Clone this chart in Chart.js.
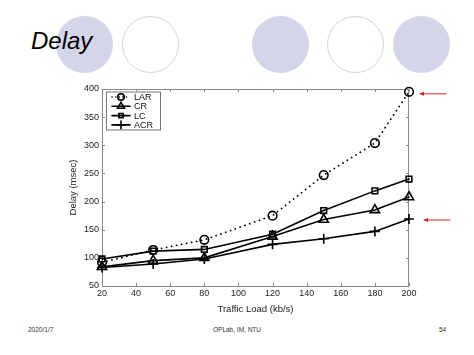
<!DOCTYPE html>
<html><head><meta charset="utf-8">
<script src="https://cdn.jsdelivr.net/npm/chart.js@4.4.1/dist/chart.umd.min.js"></script>
<style>
html,body{margin:0;padding:0;background:#fff;width:474px;height:355px;overflow:hidden;font-family:"Liberation Sans",Arial,sans-serif;}
.c{position:absolute;border-radius:50%;box-sizing:border-box;}
.f{background:#d5d5e9;}
.o{border:1px solid #d3d3e6;background:#fff;}
#title{position:absolute;left:31px;top:27px;font-size:24px;font-style:italic;color:#000;}
.foot{position:absolute;top:326px;font-size:6.5px;color:#333;}
#wrap{position:absolute;left:0;top:0;width:474px;height:355px;}
</style></head>
<body>
<div class="c f" style="left:56px;top:16px;width:57px;height:57px"></div>
<div class="c o" style="left:122px;top:16px;width:57px;height:57px"></div>
<div class="c f" style="left:252px;top:16px;width:57px;height:57px"></div>
<div class="c o" style="left:327px;top:16px;width:57px;height:57px"></div>
<div class="c f" style="left:393px;top:16px;width:57px;height:57px"></div>
<div id="title">Delay</div>
<div class="foot" style="left:28px">2020/1/7</div>
<div class="foot" style="left:213px">OPLab, IM, NTU</div>
<div class="foot" style="left:439px">54</div>
<div id="wrap"><canvas id="cv" width="474" height="355"></canvas></div>
<script>
const loads = [20, 50, 80, 120, 150, 180, 200];
const lar = [92, 114, 132, 175, 247, 304, 395];
const cr  = [84, 95, 100, 138, 168, 185, 208];
const lc  = [98, 112, 115, 142, 184, 219, 240];
const acr = [83, 89, 98, 124, 134, 147, 169];
const seriesNames = ['LAR', 'CR', 'LC', 'ACR'];
const xTicks = [20, 40, 60, 80, 100, 120, 140, 160, 180, 200];
const yTicks = [50, 100, 150, 200, 250, 300, 350, 400];

const pts = arr => loads.map((x, i) => ({x: x, y: arr[i]}));
const styles = [
  {style:'circle', r:4.3, lr:3.2, dash:[0.1,5]},
  {style:'triangle', r:5.3, lr:4, dash:[]},
  {style:'rect', r:4, lr:3, dash:[]},
  {style:'cross', r:5, lr:3.8, dash:[]}
];
const vals = [lar, cr, lc, acr];
const datasets = seriesNames.map((n, i) => ({
  label: n, data: pts(vals[i]), clip: false,
  borderColor: '#000', borderWidth: i === 0 ? 1.8 : 1.6, borderDash: styles[i].dash,
  borderCapStyle: 'round',
  pointStyle: styles[i].style, pointRadius: styles[i].r, pointBorderWidth: 1.6,
  pointBackgroundColor: 'rgba(0,0,0,0)', pointBorderColor: '#000', tension: 0, fill: false
}));

const deco = {
  id: 'deco',
  beforeDatasetsDraw(chart) {
    const ctx = chart.ctx, a = chart.chartArea;
    const xs = chart.scales.x, ys = chart.scales.y;
    ctx.save();
    ctx.strokeStyle = '#8a8a8a'; ctx.lineWidth = 1;
    ctx.strokeRect(a.left + 0.5, a.top + 0.5, a.right - a.left - 1, a.bottom - a.top);
    ctx.beginPath();
    xTicks.forEach(v => {
      const p = Math.round(xs.getPixelForValue(v)) + 0.5;
      ctx.moveTo(p, a.bottom); ctx.lineTo(p, a.bottom - 3);
      ctx.moveTo(p, a.top); ctx.lineTo(p, a.top + 3);
    });
    yTicks.forEach(v => {
      const p = Math.round(ys.getPixelForValue(v)) + 0.5;
      ctx.moveTo(a.left, p); ctx.lineTo(a.left + 3, p);
      ctx.moveTo(a.right, p); ctx.lineTo(a.right - 3, p);
    });
    ctx.stroke();
    ctx.restore();
  },
  afterDraw(chart) {
    const ctx = chart.ctx, a = chart.chartArea;
    const ys = chart.scales.y;
    ctx.save();
    // legend
    const lx = a.left + 4, ly = a.top + 2.5, lw = 54, lh = 38;
    ctx.fillStyle = '#fff'; ctx.fillRect(lx, ly, lw, lh);
    ctx.strokeStyle = '#777'; ctx.lineWidth = 1; ctx.strokeRect(lx + 0.5, ly + 0.5, lw, lh);
    ctx.font = '9px "Liberation Sans", Arial, sans-serif';
    ctx.textBaseline = 'middle';
    seriesNames.forEach((n, i) => {
      const y = ly + 5.5 + i * 9.3;
      ctx.strokeStyle = '#000'; ctx.lineWidth = 1.6; ctx.lineCap = 'round';
      ctx.setLineDash(styles[i].dash.length ? [0.1, 3.5] : []);
      ctx.beginPath(); ctx.moveTo(lx + 6, y); ctx.lineTo(lx + 24, y); ctx.stroke();
      ctx.setLineDash([]);
      ctx.fillStyle = 'rgba(0,0,0,0)';
      Chart.helpers.drawPoint(ctx, {pointStyle: styles[i].style, radius: styles[i].lr, borderWidth: 1.6, rotation: 0}, lx + 15, y);
      ctx.fillStyle = '#111';
      ctx.fillText(n, lx + 28, y + 0.5);
    });
    // red arrows
    ctx.strokeStyle = '#d02020'; ctx.fillStyle = '#d02020'; ctx.lineWidth = 1;
    [[a.right + 10, ys.getPixelForValue(395) + 2, 27], [a.right + 14, ys.getPixelForValue(169) + 1, 27]].forEach(([x, y, w]) => {
      ctx.beginPath(); ctx.moveTo(x + 2, y); ctx.lineTo(x + w, y); ctx.stroke();
      ctx.beginPath(); ctx.moveTo(x, y); ctx.lineTo(x + 5, y - 2); ctx.lineTo(x + 5, y + 2); ctx.closePath(); ctx.fill();
    });
    ctx.restore();
  }
};

new Chart(document.getElementById('cv'), {
  type: 'line',
  data: { datasets },
  plugins: [deco],
  options: {
    responsive: false, animation: false,
    layout: { padding: { left: 68, right: 65, top: 89, bottom: 40 } },
    plugins: { legend: { display: false }, tooltip: { enabled: false } },
    scales: {
      x: {
        type: 'linear', min: 20, max: 200,
        afterBuildTicks: s => { s.ticks = xTicks.map(v => ({value: v})); },
        afterFit: s => { s.height = 29; },
        grid: { display: false, drawTicks: false }, border: { display: false },
        ticks: { color: '#222', font: { size: 9, family: '"Liberation Sans", Arial' }, padding: 2, maxRotation: 0 },
        title: { display: true, text: 'Traffic Load (kb/s)', color: '#222', font: { size: 9.5, family: '"Liberation Sans", Arial' }, padding: { top: 3, bottom: 0 } }
      },
      y: {
        type: 'linear', min: 50, max: 400,
        afterBuildTicks: s => { s.ticks = yTicks.map(v => ({value: v})); },
        afterFit: s => { s.width = 34; },
        grid: { display: false, drawTicks: false }, border: { display: false },
        ticks: { color: '#222', font: { size: 9, family: '"Liberation Sans", Arial' }, padding: 3 },
        title: { display: true, text: 'Delay (msec)', color: '#222', font: { size: 9.5, family: '"Liberation Sans", Arial' }, padding: 0 }
      }
    }
  }
});
</script>
</body></html>
